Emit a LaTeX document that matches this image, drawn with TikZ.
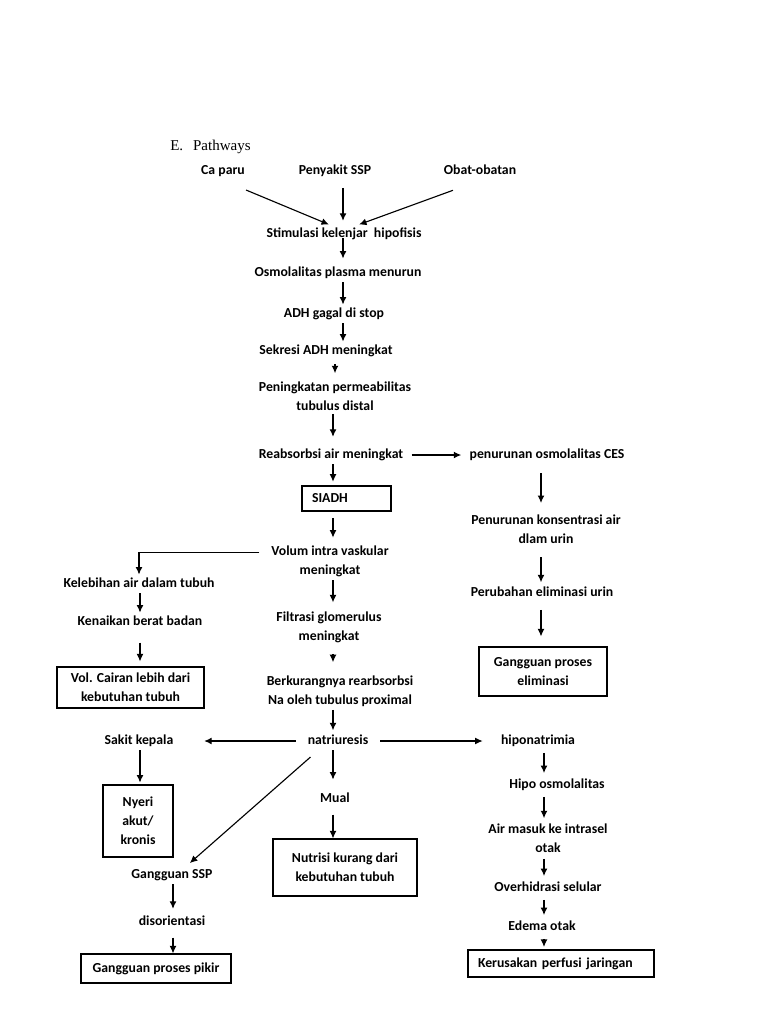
\documentclass[tikz,border=0pt]{standalone}
\usepackage{fontspec}
\setmainfont{Carlito}
\newfontfamily\headfont{Liberation Serif}
\usetikzlibrary{arrows.meta}

\begin{document}
\begin{tikzpicture}[x=0.8pt, y=-0.8pt,
    txt/.style={font=\bfseries\fontsize{11}{15.2}\selectfont, text height=7.5pt, text depth=2.2pt, inner sep=2.5pt},
    txtm/.style={font=\bfseries\fontsize{11}{15.2}\selectfont, align=center, inner sep=2.5pt},
    box/.style={txtm, draw, line width=0.9pt},
    arr/.style={-{Latex[length=6pt,width=5.5pt]}, line width=0.9pt}]
  \useasboundingbox (0,0) rectangle (768,1024);
  \coordinate (tcol) at (343,0);
  \coordinate (mcol) at (333,0);
  \coordinate (lcol) at (140,0);
  \coordinate (scol) at (173,0);
  \coordinate (ecol) at (541,0);
  \coordinate (rcol) at (544,0);

  \node[anchor=base west, inner sep=0, font=\headfont\fontsize{12}{14}\selectfont] (title) at (170,151) {E.\hspace{8pt}Pathways};

  % causes
  \node[txt] (ca) at (223,171) {Ca paru};
  \node[txt] (ssp) at (335,171) {Penyakit SSP};
  \node[txt] (obat) at (480,171) {Obat-obatan};

  % main column
  \node[txt] (stim) at (344,234) {Stimulasi kelenjar\ \ hipofisis};
  \node[txt] (osm) at (338,273) {Osmolalitas plasma menurun};
  \node[txt] (adh) at (334,314) {ADH gagal di stop};
  \node[txt] (sek) at (326,351) {Sekresi ADH meningkat};
  \node[txtm] (perm) at (335,396) {Peningkatan permeabilitas\\tubulus distal};
  \node[txt] (reab) at (331,455) {Reabsorbsi air meningkat};
  \node[box, align=left, minimum width=71.2pt, minimum height=20pt, inner xsep=8pt, text width=55.2pt] (siadh) at (346.5,498.5) {SIADH};
  \node[txtm] (vol) at (330,561.5) {Volum intra vaskular\\meningkat};
  \node[txtm] (filt) at (329,627.5) {Filtrasi glomerulus\\meningkat};
  \node[txtm] (berk) at (340,691) {Berkurangnya rearbsorbsi\\Na oleh tubulus proximal};
  \node[txt] (natr) at (338,741) {natriuresis};
  \node[txt] (mual) at (335,799) {Mual};
  \node[box, minimum width=115.2pt, minimum height=45.6pt] (nutri) at (345,867.5) {Nutrisi kurang dari\\kebutuhan tubuh};

  % left side
  \node[txt] (keleb) at (139,584) {Kelebihan air dalam tubuh};
  \node[txt] (kenaik) at (140,622) {Kenaikan berat badan};
  \node[box, minimum width=117.6pt, minimum height=32.8pt] (volbox) at (130.5,687.5) {Vol. Cairan lebih dari\\kebutuhan tubuh};
  \node[txt] (sakit) at (139,741) {Sakit kepala};
  \node[box, minimum width=56pt, minimum height=57.6pt] (nyeri) at (138,821) {Nyeri\\akut/\\kronis};
  \node[txt] (sspg) at (172,875) {Gangguan SSP};
  \node[txt] (disor) at (172,922) {disorientasi};
  \node[box, minimum width=120pt, minimum height=23.2pt] (pikir) at (156,968.5) {Gangguan proses pikir};

  % right side
  \node[txt] (ces) at (547,455) {penurunan osmolalitas CES};
  \node[txtm] (konsen) at (546,529.5) {Penurunan konsentrasi air\\dlam urin};
  \node[txt] (perub) at (542,593) {Perubahan eliminasi urin};
  \node[box, minimum width=102.4pt, minimum height=39.2pt] (gpe) at (543,671.5) {Gangguan proses\\eliminasi};
  \node[txt] (hipon) at (538,741) {hiponatrimia};
  \node[txt] (hipo) at (557,785) {Hipo osmolalitas};
  \node[txtm] (air) at (548,838.5) {Air masuk ke intrasel\\otak};
  \node[txt] (over) at (548,888) {Overhidrasi selular};
  \node[txt] (edema) at (542,927) {Edema otak};
  \node[box, align=left, minimum width=148.8pt, minimum height=21.6pt, inner xsep=8pt, text width=132.8pt] (kerus) at (561,963.5) {Kerusakan perfusi jaringan};

  \draw[arr, shorten <=20pt] (ca.south) -- ([xshift=-12pt]stim.north);
  \draw[arr, shorten <=6pt, shorten >=3pt] (tcol |- ssp.south) -- (tcol |- stim.north);
  \draw[arr, shorten <=23pt] (obat.south) -- ([xshift=12pt]stim.north);

  \draw[arr, shorten <=-4pt, shorten >=4pt] (tcol |- stim.south) -- (tcol |- osm.north);
  \draw[arr] (tcol |- osm.south) -- (tcol |- adh.north);
  \draw[arr] (tcol |- adh.south) -- (tcol |- sek.north);
  \draw[arr, shorten <=3pt, shorten >=4pt] (perm |- sek.south) -- (perm.north);
  \draw[arr, shorten >=7pt] (mcol |- perm.south) -- (mcol |- reab.north);
  \draw[arr, shorten >=3pt] (mcol |- reab.south) -- (mcol |- siadh.north);
  \draw[arr, shorten <=5pt, shorten >=4pt] (mcol |- siadh.south) -- (mcol |- vol.north);
  \draw[arr, shorten >=5pt] (mcol |- vol.south) -- (mcol |- filt.north);
  \draw[arr, shorten <=6pt, shorten >=8pt] (mcol |- filt.south) -- (mcol |- berk.north);
  \draw[arr, shorten >=1pt] (mcol |- berk.south) -- (mcol |- natr.north);
  \draw[arr, shorten >=8pt] (mcol |- natr.south) -- (mcol |- mual.north);
  \draw[arr, shorten <=5pt] (mcol |- mual.south) -- (mcol |- nutri.north);

  \draw[arr, shorten <=4pt, shorten >=4pt] (reab) -- (ces);
  \draw[arr] ([xshift=-7pt, yshift=7pt]vol.west) -| (keleb.north);
  \draw[arr] (lcol |- keleb.south) -- (lcol |- kenaik.north);
  \draw[arr, shorten <=9pt, shorten >=4pt] (lcol |- kenaik.south) -- (lcol |- volbox.north);

  \draw[arr, shorten <=7pt, shorten >=22pt] (natr) -- (sakit);
  \draw[arr, shorten <=7pt, shorten >=12pt] (natr) -- (hipon);
  \draw[arr, shorten >=1.5pt] (lcol |- sakit.south) -- (lcol |- nyeri.north);
  \draw[arr, shorten <=8pt, shorten >=3pt] ([xshift=-16pt]natr.south) -- ([xshift=12pt]sspg.north);
  \draw[arr, shorten >=3pt] (scol |- sspg.south) -- (scol |- disor.north);
  \draw[arr, shorten <=5pt] (scol |- disor.south) -- (scol |- pikir.north);

  \draw[arr, shorten <=7pt, shorten >=7pt] (ecol |- ces.south) -- (ecol |- konsen.north);
  \draw[arr, shorten <=8pt, shorten >=1pt] (ecol |- konsen.south) -- (ecol |- perub.north);
  \draw[arr, shorten <=6pt, shorten >=8pt] (ecol |- perub.south) -- (ecol |- gpe.north);
  \foreach \a/\b in {hipon/hipo, hipo/air, air/over, over/edema, edema/kerus}
    \draw[arr, shorten <=2pt, shorten >=2pt] (rcol |- \a.south) -- (rcol |- \b.north);
\end{tikzpicture}
\end{document}
